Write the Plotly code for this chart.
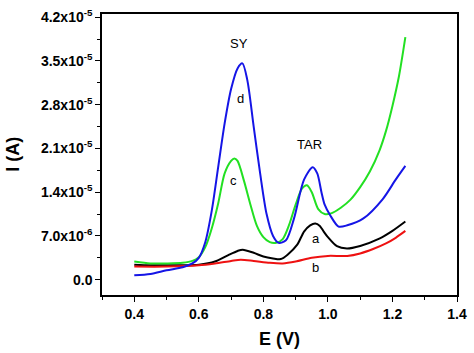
import plotly.graph_objects as go

# ---- data (current in units of 1e-6 A) ----
x_d = [0.40, 0.45, 0.50, 0.55, 0.58, 0.60, 0.62, 0.64, 0.66, 0.68, 0.70, 0.72, 0.735, 0.75, 0.77, 0.79, 0.81, 0.83, 0.847, 0.87, 0.895, 0.926, 0.953, 0.967, 0.98, 0.99, 1.007, 1.033, 1.06, 1.11, 1.17, 1.21, 1.24]
y_d = [0.7, 0.9, 1.5, 2.0, 2.6, 3.5, 6.0, 11.0, 18.0, 25.0, 30.5, 33.8, 34.6, 32.0, 24.5, 17.0, 10.5, 7.0, 5.9, 6.3, 9.8, 16.0, 18.0, 17.0, 14.0, 12.0, 10.3, 8.5, 8.7, 9.8, 12.9, 16.0, 18.2]

x_c = [0.40, 0.45, 0.50, 0.55, 0.58, 0.60, 0.62, 0.64, 0.66, 0.68, 0.70, 0.71, 0.72, 0.74, 0.76, 0.78, 0.80, 0.82, 0.84, 0.86, 0.88, 0.90, 0.92, 0.935, 0.95, 0.97, 0.99, 1.01, 1.04, 1.07, 1.10, 1.13, 1.16, 1.18, 1.20, 1.22, 1.24]
y_c = [2.9, 2.6, 2.6, 2.7, 3.0, 3.6, 5.2, 8.2, 12.2, 17.0, 19.0, 19.4, 19.0, 15.8, 12.0, 8.6, 6.8, 6.0, 5.9, 6.5, 8.8, 12.0, 14.6, 15.1, 14.0, 11.3, 10.5, 10.6, 11.5, 12.8, 14.8, 17.3, 20.7, 23.8, 27.8, 32.5, 38.8]

x_a = [0.40, 0.45, 0.50, 0.55, 0.60, 0.65, 0.69, 0.72, 0.736, 0.77, 0.80, 0.83, 0.854, 0.875, 0.905, 0.926, 0.945, 0.961, 0.975, 0.987, 1.0, 1.028, 1.059, 1.10, 1.161, 1.20, 1.24]
y_a = [2.4, 2.3, 2.3, 2.3, 2.4, 2.9, 3.9, 4.6, 4.8, 4.3, 3.7, 3.4, 3.3, 4.0, 5.6, 7.7, 8.7, 9.0, 8.6, 7.7, 6.8, 5.35, 5.0, 5.4, 6.6, 7.8, 9.3]

x_b = [0.40, 0.50, 0.60, 0.65, 0.70, 0.73, 0.77, 0.82, 0.86, 0.90, 0.95, 1.00, 1.06, 1.10, 1.14, 1.18, 1.21, 1.24]
y_b = [2.1, 2.1, 2.3, 2.6, 3.0, 3.2, 3.0, 2.7, 2.6, 2.9, 3.5, 3.8, 3.8, 4.2, 4.9, 5.8, 6.7, 7.8]

y_tick_vals = [0.0, 7.0, 14.0, 21.0, 28.0, 35.0, 42.0]
y_tick_text = ["0.0", "7.0x10<sup>-6</sup>", "1.4x10<sup>-5</sup>", "2.1x10<sup>-5</sup>",
               "2.8x10<sup>-5</sup>", "3.5x10<sup>-5</sup>", "4.2x10<sup>-5</sup>"]
x_tick_vals = [0.4, 0.6, 0.8, 1.0, 1.2, 1.4]
x_tick_text = ["0.4", "0.6", "0.8", "1.0", "1.2", "1.4"]

curve_labels = [("SY", 0.726, 37.8), ("TAR", 0.943, 21.6), ("d", 0.728, 29.0),
                ("c", 0.706, 15.8), ("a", 0.962, 6.6), ("b", 0.962, 1.9)]

scale = 1e-6
fig = go.Figure()
series = [(x_a, y_a, "#000000"), (x_b, y_b, "#ee1111"), (x_c, y_c, "#22e022"), (x_d, y_d, "#1515e6")]
for xs, ys, col in series:
    fig.add_trace(go.Scatter(x=xs, y=[v * scale for v in ys], mode="lines",
                             line=dict(color=col, width=2, shape="spline", smoothing=0.8),
                             showlegend=False, hoverinfo="skip"))

for txt, xv, yv in curve_labels:
    fig.add_annotation(x=xv, y=yv * scale, text=txt, showarrow=False, xref="x", yref="y",
                       font=dict(family="Liberation Sans", size=13, color="#000"))

fig.add_annotation(x=-(102 - 11) / (474 - 114), y=0.5, xref="paper", yref="paper",
                   xanchor="center", yanchor="middle", text="<b>I (A)</b>", showarrow=False,
                   textangle=-90, font=dict(family="Liberation Sans", size=18, color="#000"))

fig.update_layout(
    width=474, height=353,
    margin=dict(l=102, r=12, t=7, b=58),
    paper_bgcolor="white", plot_bgcolor="white",
    font=dict(family="Liberation Sans", color="#000"),
    xaxis=dict(range=[0.3, 1.4], tickvals=x_tick_vals, ticktext=x_tick_text,
               ticks="outside", ticklen=5, tickwidth=1.2, tickcolor="#000",
               minor=dict(dtick=0.1, tick0=0.3, ticks="outside", ticklen=3, tickcolor="#000"),
               showline=True, linecolor="#000", linewidth=1.5, mirror=True,
               showgrid=False, zeroline=False,
               tickfont=dict(family="Liberation Sans", size=14, color="#000", weight="bold"),
               title=dict(text="<b>E (V)</b>", standoff=12,
                          font=dict(family="Liberation Sans", size=18, color="#000"))),
    yaxis=dict(range=[-2.45e-6, 4.25e-5], tickvals=[v * scale for v in y_tick_vals], ticktext=y_tick_text,
               ticks="outside", ticklen=5, tickwidth=1.2, tickcolor="#000",
               minor=dict(dtick=3.5e-6, tick0=0, ticks="outside", ticklen=3, tickcolor="#000"),
               showline=True, linecolor="#000", linewidth=1.5, mirror=True,
               showgrid=False, zeroline=False,
               tickfont=dict(family="Liberation Sans", size=14, color="#000", weight="bold")),
)
fig.write_html("out.html")
